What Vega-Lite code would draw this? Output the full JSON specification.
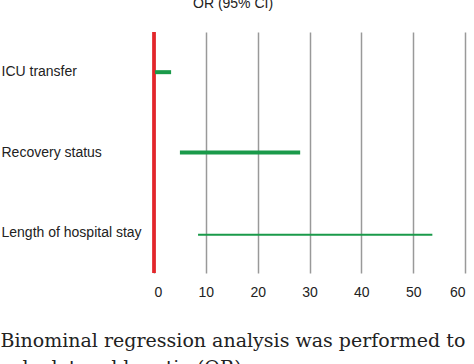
{
  "$schema": "https://vega.github.io/schema/vega-lite/v6.json",
  "autosize": "none",
  "width": 311,
  "height": 241,
  "padding": {"left": 154, "top": 32, "right": 9, "bottom": 91},
  "background": "white",
  "config": {
    "view": {"stroke": null},
    "font": "Liberation Sans"
  },
  "title": {
    "text": "OR (95% CI)",
    "anchor": "start",
    "frame": "group",
    "dx": 39,
    "baseline": "alphabetic",
    "offset": 9,
    "fontSize": 14,
    "fontWeight": "normal",
    "font": "Liberation Sans",
    "color": "#222222"
  },
  "data": {
    "values": [
      {"outcome": "ICU transfer", "lower": 0.2, "upper": 3.3},
      {"outcome": "Recovery status", "lower": 5.0, "upper": 28.2},
      {"outcome": "Length of hospital stay", "lower": 8.5, "upper": 53.7}
    ]
  },
  "layer": [
    {
      "mark": {"type": "rule", "color": "#e3262b", "strokeWidth": 3},
      "encoding": {
        "x": {
          "datum": 0,
          "type": "quantitative",
          "scale": {"domain": [0, 60], "nice": false},
          "axis": {
            "values": [0, 10, 20, 30, 40, 50, 60],
            "domain": false,
            "ticks": false,
            "grid": true,
            "gridColor": "#999999",
            "gridWidth": 1.5,
            "gridOpacity": 1,
            "labelFontSize": 14,
            "labelColor": "#222222",
            "labelPadding": 12,
            "labelFont": "Liberation Sans",
            "title": ["Binominal regression analysis was performed to", "calculate odds ratio (OR)."],
            "titleFont": "DejaVu Serif",
            "titleFontSize": 19,
            "titleFontWeight": "normal",
            "titleColor": "#222222",
            "titleAlign": "left",
            "titleAnchor": "start",
            "titleX": -154,
            "titleY": 73,
            "titleBaseline": "alphabetic",
            "titleLineHeight": 27
          }
        }
      }
    },
    {
      "transform": [{"filter": "datum.outcome !== 'Length of hospital stay'"}],
      "mark": {"type": "rule", "color": "#1a9a4a", "strokeWidth": 4},
      "encoding": {
        "y": {
          "field": "outcome",
          "type": "nominal",
          "sort": ["ICU transfer", "Recovery status", "Length of hospital stay"],
          "scale": {"domain": ["ICU transfer", "Recovery status", "Length of hospital stay"], "paddingInner": 0, "paddingOuter": 0},
          "axis": {
            "title": null,
            "domain": false,
            "ticks": false,
            "tickSize": 0,
            "labelAlign": "left",
            "labelPadding": 153,
            "labelFontSize": 14,
            "labelFont": "Liberation Sans",
            "labelColor": "#222222",
            "labelLimit": 200
          }
        },
        "x": {"field": "lower", "type": "quantitative"},
        "x2": {"field": "upper"}
      }
    },
    {
      "transform": [{"filter": "datum.outcome === 'Length of hospital stay'"}],
      "mark": {"type": "rule", "color": "#1a9a4a", "strokeWidth": 2, "yOffset": 2},
      "encoding": {
        "y": {"field": "outcome", "type": "nominal"},
        "x": {"field": "lower", "type": "quantitative"},
        "x2": {"field": "upper"}
      }
    }
  ]
}
